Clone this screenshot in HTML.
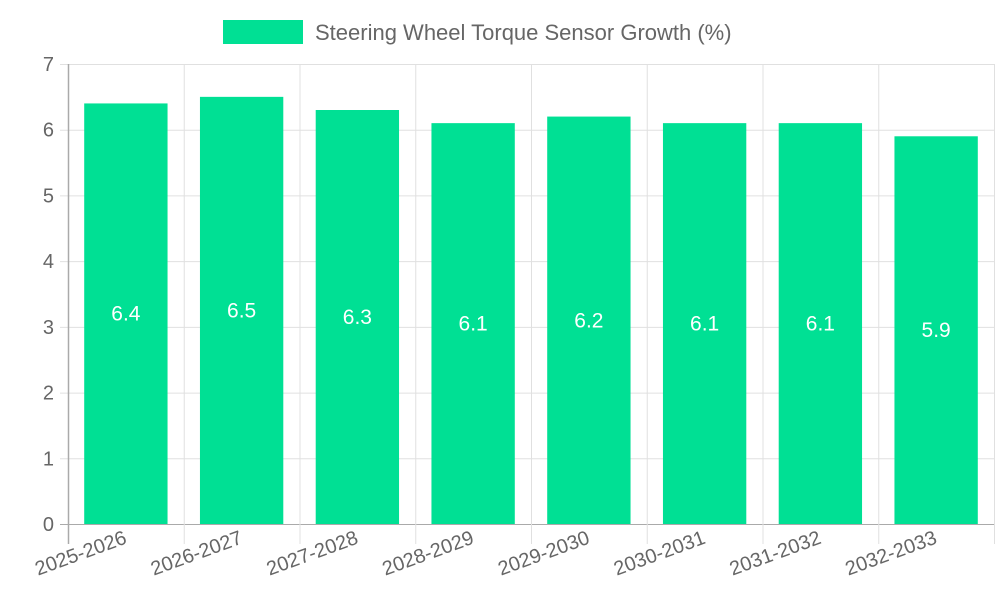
<!DOCTYPE html>
<html><head><meta charset="utf-8"><style>
body{margin:0;background:#fff;}
svg{display:block;font-family:"Liberation Sans",sans-serif;}
</style></head><body>
<svg id="chart" width="1000" height="600">
<g id="legend">
<rect x="223" y="20" width="80" height="24" fill="#00e094"></rect>
<text x="315" y="40" font-size="22" fill="#666">Steering Wheel Torque Sensor Growth (%)</text>
</g>
<g id="grid"></g><g id="bars"></g><g id="labels"></g>
</svg>
<script>
const categories=["2025-2026","2026-2027","2027-2028","2028-2029","2029-2030","2030-2031","2031-2032","2032-2033"];
const values=[6.4,6.5,6.3,6.1,6.2,6.1,6.1,5.9];
const yTicks=[0,1,2,3,4,5,6,7];
const L=68,R=994,T=64,B=524,yMax=7;
const ns="http://www.w3.org/2000/svg";
const bw=(R-L)/categories.length;
const x=i=>L+bw*i;
const y=v=>B-(v/yMax)*(B-T);
function mk(tag,attrs,parent){const e=document.createElementNS(ns,tag);for(const k in attrs)e.setAttribute(k,attrs[k]);document.getElementById(parent).appendChild(e);return e;}
yTicks.forEach(t=>{
 const g=mk('line',{x1:L-8,x2:R,y1:y(t)+0.5,y2:y(t)+0.5,stroke:t===0?'#aaa':'#e0e0e0','stroke-width':1},'grid');
 
 
 const tx=mk('text',{x:L-14,y:y(t)+7,'text-anchor':'end','font-size':20,fill:'#666'},'labels');
 tx.textContent=t;
 
 
});
for(let i=0;i<=categories.length;i++){
 const g=mk('line',{x1:x(i)+0.5,x2:x(i)+0.5,y1:T,y2:B+20,stroke:i===0?'#aaa':'#e0e0e0','stroke-width':i===0?1.5:1},'grid');
 
 
}
categories.forEach((c,i)=>{
 const w=bw*0.72,cx=x(i)+bw/2,v=values[i];
 const r=mk('rect',{x:cx-w/2,y:y(v),width:w,height:B-y(v),fill:'#00e094'},'bars');
 
 
 const vl=mk('text',{x:cx,y:(y(v)+B)/2+7,'text-anchor':'middle','font-size':21,fill:'#fff'},'labels');
 vl.textContent=v;
 
 
 const xl=mk('text',{x:cx+2,y:543,'text-anchor':'end','font-size':20,fill:'#666',transform:`rotate(-20 ${cx+2} 543)`},'labels');
 xl.textContent=c;
 
 
});
</script>
</body></html>
